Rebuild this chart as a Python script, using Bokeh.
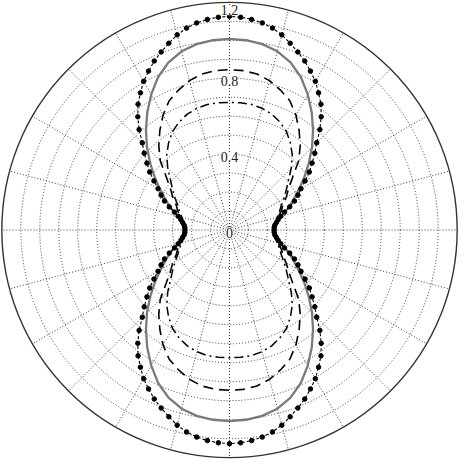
import numpy as np
from bokeh.plotting import figure
from bokeh.embed import file_html
from bokeh.resources import INLINE
from bokeh.core.properties import value

# ---- data (first quadrant; pattern is symmetric) ----
# angle in degrees measured from the +x axis, radius in plot units
theta_fine = [0, 3, 6, 9, 12, 15, 18, 21, 24, 27, 30, 33, 36, 39, 42, 45,
              48, 51, 54, 57, 60, 63, 66, 69, 72, 75, 78, 81, 84, 87, 90]
r_dotted = [0.235, 0.236, 0.240, 0.250, 0.262, 0.280, 0.305, 0.340, 0.375, 0.405,
            0.435, 0.475, 0.520, 0.560, 0.605, 0.650, 0.712, 0.768, 0.820, 0.862,
            0.905, 0.940, 0.975, 1.005, 1.035, 1.065, 1.088, 1.105, 1.116, 1.123, 1.126]

theta_coarse = [0, 5, 10, 15, 20, 25, 30, 35, 40, 45, 50, 55, 60, 65, 70, 75, 80, 85, 90]
r_solid = [0.235, 0.240, 0.255, 0.280, 0.325, 0.370, 0.420, 0.480, 0.545, 0.615,
           0.685, 0.756, 0.825, 0.890, 0.940, 0.975, 0.995, 1.004, 1.007]
r_dashed = [0.235, 0.240, 0.250, 0.265, 0.290, 0.310, 0.345, 0.380, 0.435, 0.516,
            0.580, 0.640, 0.700, 0.752, 0.785, 0.815, 0.835, 0.843, 0.845]
r_dashdot = [0.235, 0.240, 0.250, 0.260, 0.280, 0.300, 0.330, 0.365, 0.405, 0.460,
             0.515, 0.560, 0.600, 0.628, 0.650, 0.664, 0.672, 0.673, 0.673]

ring_values = [0.1, 0.2, 0.3, 0.4, 0.5, 0.6, 0.7, 0.8, 0.9, 1.0, 1.1]
outer_radius = 1.2
spoke_angles = [0, 15, 30, 45, 60, 75, 90, 105, 120, 135, 150, 165,
                180, 195, 210, 225, 240, 255, 270, 285, 300, 315, 330, 345]
radial_ticks = [0, 0.4, 0.8, 1.2]
radial_tick_labels = ["0", "0.4", "0.8", "1.2"]


def full_curve(th, r):
    th = np.asarray(th, float)
    r = np.asarray(r, float)
    a = np.concatenate([th, 180 - th[::-1][1:], 180 + th[1:], 360 - th[::-1][1:]])
    rr = np.concatenate([r, r[::-1][1:], r[1:], r[::-1][1:]])
    t = np.deg2rad(a)
    return rr * np.cos(t), rr * np.sin(t)


W, H = 458, 459
R = 1.207
ppu = W / (2 * R)
Ry = H / 2 / ppu

p = figure(width=W, height=H, x_range=(-R, R), y_range=(-Ry, Ry),
           output_backend="svg", toolbar_location=None, min_border=0)
p.axis.visible = False
p.xgrid.visible = False
p.ygrid.visible = False
p.outline_line_color = None
p.background_fill_color = "white"

# grid rings
p.circle(x=[0] * len(ring_values), y=[0] * len(ring_values), radius=ring_values,
         fill_color=None, line_color="#3c3c3c", line_dash="1 2", line_width=1.0)
# spokes
sa = np.deg2rad(np.asarray(spoke_angles, float))
p.segment(x0=[0] * len(spoke_angles), y0=[0] * len(spoke_angles),
          x1=outer_radius * np.cos(sa), y1=outer_radius * np.sin(sa),
          line_color="#3c3c3c", line_dash="1 2", line_width=1.0)
# outer circle
p.circle(x=[0], y=[0], radius=[outer_radius], fill_color=None,
         line_color="#333333", line_width=1.4)

# series
xs, ys = full_curve(theta_coarse, r_solid)
p.line(xs, ys, line_color="#7a7a7a", line_width=2.3)

xd, yd = full_curve(theta_coarse, r_dashed)
p.line(xd, yd, line_color="black", line_width=1.6, line_dash="10 6")

xdd, ydd = full_curve(theta_coarse, r_dashdot)
p.line(xdd, ydd, line_color="black", line_width=1.5, line_dash="9 4 2 4")

xo, yo = full_curve(theta_fine, r_dotted)
p.line(xo, yo, line_color="black", line_width=1.1, line_dash="3 2")
p.scatter(xo[:-1], yo[:-1], marker="circle", size=4.5,
          fill_color="black", line_color="black")

# radial tick labels
label_style = dict(text_font=value("Liberation Serif"), text_font_size="14px",
                   text_color="#222222", text_align="center",
                   text_baseline="middle", background_fill_color="white")
p.text(x=[0] * (len(radial_ticks) - 1), y=radial_ticks[:-1],
       text=radial_tick_labels[:-1], y_offset=3, **label_style)
p.text(x=[0], y=radial_ticks[-1:], text=radial_tick_labels[-1:],
       y_offset=8, **label_style)

open("out.html", "w").write(file_html(p, INLINE))
